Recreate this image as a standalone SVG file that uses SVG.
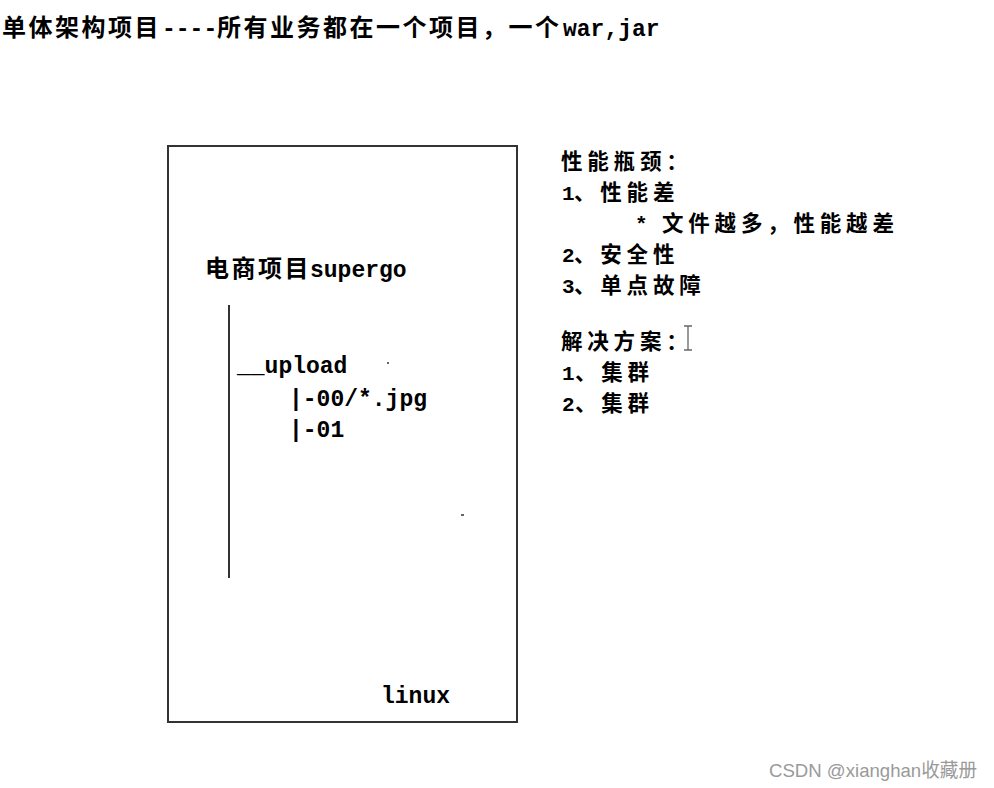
<svg xmlns="http://www.w3.org/2000/svg" width="994" height="788" viewBox="0 0 994 788">
<style>
.t{font-family:"Liberation Mono","Noto Sans CJK SC",monospace;font-weight:bold;fill:#000}
.c{font-family:"Noto Sans CJK SC","Liberation Sans",sans-serif;font-size:24px;letter-spacing:2.5px;font-weight:bold}
.n{font-family:"Noto Sans CJK SC","Liberation Sans",sans-serif;font-size:21.5px;letter-spacing:4.8px;font-weight:bold}
.l{font-family:"Liberation Mono","Noto Sans CJK SC",monospace;font-size:23px;font-weight:bold}
.m{font-family:"Liberation Mono","Noto Sans CJK SC",monospace;font-size:21px;font-weight:bold}
.ln{stroke:#333;stroke-width:2;fill:none}
.wm{font-family:"Liberation Sans","Noto Sans CJK SC",sans-serif;font-size:19px;fill:#9a9a9a}
</style>
<rect width="994" height="788" fill="#fff"/>
<g id="title">
<text class="t" y="36"><tspan class="c" x="2">单体架构项目</tspan><tspan class="l" x="162" font-size="22">----</tspan><tspan class="c" x="217">所有业务都在一个项目，一个</tspan><tspan class="l" x="563">war,jar</tspan></text>
</g>
<g id="linux-box">
<rect class="ln" x="168" y="146" width="349" height="576"/>
<text class="t" y="703"><tspan class="l" x="381">linux</tspan></text>
</g>
<g id="supergo">
<text class="t" y="277"><tspan class="c" x="205">电商项目</tspan><tspan class="l" x="310">supergo</tspan></text>
<line class="ln" x1="229" y1="305" x2="229" y2="578"/>
<text class="t" y="373"><tspan class="l" x="237" font-size="24">__upload</tspan></text>
<text class="t" y="406"><tspan class="l" x="289">|-00/*.jpg</tspan></text>
<text class="t" y="437"><tspan class="l" x="289">|-01</tspan></text>
<rect x="387" y="362" width="2" height="2" fill="#666"/>
<rect x="461" y="514" width="3" height="2" fill="#666"/>
</g>
<g id="bottleneck">
<text class="t"><tspan class="n" x="561" y="169">性能瓶颈：</tspan><tspan class="m" x="562" y="200">1</tspan><tspan class="n" x="574" y="200">、性能差</tspan><tspan class="m" x="635" y="231">*</tspan><tspan class="n" x="662" y="231">文件越多，性能越差</tspan><tspan class="m" x="562" y="262">2</tspan><tspan class="n" x="574" y="262">、安全性</tspan><tspan class="m" x="562" y="293">3</tspan><tspan class="n" x="574" y="293">、单点故障</tspan></text>
</g>
<g id="solution">
<text class="t"><tspan class="n" x="561" y="349">解决方案：</tspan><tspan class="m" x="562" y="380">1</tspan><tspan class="n" x="575" y="380">、集群</tspan><tspan class="m" x="562" y="411">2</tspan><tspan class="n" x="575" y="411">、集群</tspan></text>
<path d="M684 326h8M688 326v24M684 350h8" stroke="#666" stroke-width="1.3" fill="none"/>
</g>
<text class="wm" x="769" y="777" textLength="208" lengthAdjust="spacingAndGlyphs">CSDN @xianghan收藏册</text>
</svg>
